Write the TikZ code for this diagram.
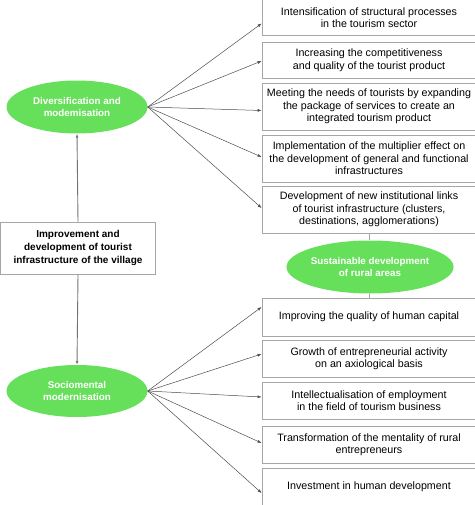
\documentclass[tikz,border=0pt]{standalone}
\usepackage{fontspec}
\setmainfont{Liberation Sans}
\usetikzlibrary{arrows.meta,shapes.geometric}
\definecolor{leaf}{RGB}{102,224,90}
\begin{document}
\begin{tikzpicture}[x=1pt,y=-1pt,
    item/.style={draw=gray!70,line width=0.8pt,minimum width=214pt,align=center,
      inner sep=2pt,font=\fontsize{10.7}{12.5}\selectfont},
    blob/.style={ellipse,fill=leaf,minimum width=141pt,minimum height=53pt,inner sep=0pt,
      align=center,text=white,font=\bfseries\fontsize{9.8}{12.5}\selectfont},
    arr/.style={-{Latex[length=4pt,width=3pt]},draw=black!70,line width=0.5pt},
    stem/.style={-{Latex[length=4pt,width=3pt]},draw=black!55,line width=0.9pt}]
  \useasboundingbox (0,0) rectangle (474,505);
  % left column
  \node[blob] (div) at (77,107) {Diversification and\\modemisation};
  \node[draw=gray!70,line width=0.8pt,minimum width=155pt,minimum height=52pt,align=center,
    font=\bfseries\fontsize{10}{13}\selectfont] (infra) at (78,248)
    {Improvement and\\development of tourist\\infrastructure of the village};
  \node[blob,minimum height=52pt] (soc) at (77,391) {Sociomental\\modernisation};
  % upper boxes
  \node[item,minimum height=36pt] (b1) at (369,17.5) {Intensification of structural processes\\in the tourism sector};
  \node[item,minimum height=36pt] (b2) at (369,60) {Increasing the competitiveness\\and quality of the tourist product};
  \node[item,minimum height=47pt] (b3) at (369,106.5) {Meeting the needs of tourists by expanding\\the package of services to create an\\integrated tourism product};
  \node[item,minimum height=47pt] (b4) at (369,158.5) {Implementation of the multiplier effect on\\the development of general and functional\\infrastructures};
  \node[item,minimum height=47pt] (b5) at (369,209.5) {Development of new institutional links\\of tourist infrastructure (clusters,\\destinations, agglomerations)};
  % middle ellipse
  \node[blob,minimum width=140pt] (sust) at (370,267) {Sustainable development\\of rural areas};
  % lower boxes
  \node[item,minimum height=38pt] (b6) at (369,317) {Improving the quality of human capital};
  \node[item,minimum height=37pt] (b7) at (369,358.5) {Growth of entrepreneurial activity\\on an axiological basis};
  \node[item,minimum height=37pt] (b8) at (369,400.5) {Intellectualisation of employment\\in the field of tourism business};
  \node[item,minimum height=37pt] (b9) at (369,444.5) {Transformation of the mentality of rural\\entrepreneurs};
  \node[item,minimum height=38pt] (b10) at (369,487) {Investment in human development};
  % connectors
  \draw[stem] (infra.north) -- (div.south);
  \draw[stem] (infra.south) -- (soc.north);
  \draw[gray!70,line width=0.8pt] (b5.south) -- (sust.north -| b5.south);
  \draw[gray!70,line width=0.8pt] (sust.south -| b6.north) -- (b6.north);
  \foreach \b/\s in {b1/-6,b2/-1,b3/-4,b4/1.5,b5/1.5}
    \draw[arr] (div.east) -- ([yshift=\s pt]\b.west);
  \foreach \b/\s in {b6/10,b7/4.5,b8/3.5,b9/1.5,b10/-6}
    \draw[arr] (soc.east) -- ([yshift=\s pt]\b.west);
\end{tikzpicture}
\end{document}
